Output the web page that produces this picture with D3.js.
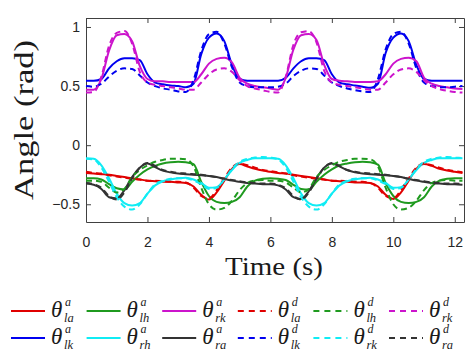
<!DOCTYPE html>
<html>
<head>
<meta charset="utf-8">
<script src="https://cdn.jsdelivr.net/npm/d3@7/dist/d3.min.js"></script>
<style>
  body { margin: 0; background: #fff; }
  svg { display: block; }
  .axis text { font-family: "Liberation Sans", Arial, sans-serif; font-size: 14px; fill: #262626; }
  .axis path, .axis line { stroke: #404040; stroke-width: 1; }
  .axis-title { font-family: "Liberation Serif", "Times New Roman", serif; fill: #1a1a1a; }
  .leg { font-family: "Liberation Serif", "Times New Roman", serif; font-style: italic; fill: #1a1a1a; }
</style>
</head>
<body>
<div id="chart"></div>
<script>
// sample times (s)
const time = [0, 0.25, 0.5, 0.75, 1, 1.25, 1.5, 1.75, 2, 2.25, 2.5, 2.75, 3, 3.25, 3.5, 3.75, 4, 4.25, 4.5, 4.75, 5, 5.25, 5.5, 5.75,
  6, 6.25, 6.5, 6.75, 7, 7.25, 7.5, 7.75, 8, 8.25, 8.5, 8.75, 9, 9.25, 9.5, 9.75, 10, 10.25, 10.5, 10.75, 11, 11.25, 11.5, 11.75,
  12, 12.25];

const xTicks = [0, 2, 4, 6, 8, 10, 12];
const yTicks = [-0.5, 0, 0.5, 1];

// actual joint angles (rad)
const laActual = [-0.235, -0.24, -0.245, -0.25, -0.26, -0.27, -0.28, -0.29, -0.30, -0.305, -0.31, -0.31, -0.315, -0.32, -0.35, -0.42, -0.46, -0.40, -0.30, -0.20, -0.16, -0.18, -0.20, -0.215,
  -0.225, -0.235, -0.24, -0.25, -0.26, -0.27, -0.28, -0.29, -0.30, -0.305, -0.31, -0.315, -0.315, -0.32, -0.35, -0.42, -0.455, -0.40, -0.30, -0.20, -0.16, -0.175, -0.20, -0.215,
  -0.225, -0.235];
const lkActual = [0.545, 0.545, 0.56, 0.65, 0.71, 0.735, 0.735, 0.72, 0.60, 0.53, 0.515, 0.505, 0.50, 0.49, 0.52, 0.77, 0.91, 0.945, 0.88, 0.68, 0.56, 0.545, 0.545, 0.545,
  0.545, 0.545, 0.57, 0.65, 0.71, 0.735, 0.735, 0.72, 0.60, 0.53, 0.515, 0.505, 0.495, 0.485, 0.52, 0.78, 0.91, 0.945, 0.88, 0.68, 0.56, 0.545, 0.545, 0.545,
  0.545, 0.545];
const lhActual = [-0.28, -0.28, -0.29, -0.33, -0.365, -0.375, -0.31, -0.25, -0.205, -0.175, -0.155, -0.145, -0.14, -0.145, -0.16, -0.31, -0.43, -0.48, -0.49, -0.48, -0.44, -0.35, -0.30, -0.285,
  -0.28, -0.285, -0.295, -0.335, -0.37, -0.375, -0.31, -0.25, -0.205, -0.17, -0.155, -0.145, -0.14, -0.145, -0.165, -0.32, -0.43, -0.48, -0.49, -0.48, -0.44, -0.35, -0.30, -0.285,
  -0.28, -0.28];
const rhActual = [-0.11, -0.115, -0.17, -0.28, -0.41, -0.49, -0.51, -0.49, -0.41, -0.34, -0.305, -0.29, -0.28, -0.275, -0.29, -0.32, -0.36, -0.355, -0.29, -0.21, -0.15, -0.125, -0.11, -0.11,
  -0.11, -0.115, -0.17, -0.28, -0.41, -0.49, -0.51, -0.49, -0.41, -0.34, -0.305, -0.29, -0.28, -0.275, -0.29, -0.32, -0.36, -0.355, -0.29, -0.21, -0.15, -0.125, -0.11, -0.11,
  -0.11, -0.11];
const rkActual = [0.47, 0.47, 0.56, 0.80, 0.93, 0.94, 0.88, 0.67, 0.56, 0.54, 0.54, 0.535, 0.535, 0.535, 0.535, 0.60, 0.69, 0.73, 0.74, 0.70, 0.57, 0.52, 0.50, 0.49,
  0.48, 0.47, 0.57, 0.81, 0.93, 0.94, 0.89, 0.68, 0.56, 0.545, 0.54, 0.535, 0.535, 0.535, 0.54, 0.60, 0.69, 0.73, 0.74, 0.71, 0.57, 0.52, 0.50, 0.49,
  0.48, 0.475];
const raActual = [-0.325, -0.335, -0.37, -0.44, -0.45, -0.38, -0.27, -0.19, -0.155, -0.185, -0.215, -0.23, -0.24, -0.245, -0.25, -0.255, -0.26, -0.27, -0.285, -0.30, -0.31, -0.32, -0.325, -0.33,
  -0.33, -0.34, -0.375, -0.44, -0.455, -0.39, -0.28, -0.19, -0.155, -0.18, -0.21, -0.23, -0.24, -0.245, -0.25, -0.255, -0.26, -0.27, -0.285, -0.30, -0.31, -0.32, -0.325, -0.33,
  -0.33, -0.335];

// desired joint angles (rad)
const laDesired = [-0.225, -0.235, -0.24, -0.255, -0.265, -0.275, -0.285, -0.29, -0.30, -0.30, -0.305, -0.31, -0.31, -0.315, -0.36, -0.43, -0.45, -0.38, -0.28, -0.19, -0.155, -0.17, -0.19, -0.21,
  -0.22, -0.23, -0.24, -0.255, -0.265, -0.275, -0.285, -0.29, -0.30, -0.30, -0.305, -0.31, -0.31, -0.32, -0.36, -0.43, -0.45, -0.38, -0.28, -0.19, -0.155, -0.17, -0.19, -0.21,
  -0.22, -0.23];
const lkDesired = [0.50, 0.495, 0.52, 0.58, 0.63, 0.65, 0.645, 0.59, 0.53, 0.50, 0.48, 0.47, 0.455, 0.45, 0.55, 0.80, 0.94, 0.96, 0.86, 0.66, 0.53, 0.50, 0.49, 0.49,
  0.49, 0.495, 0.52, 0.585, 0.63, 0.65, 0.645, 0.59, 0.53, 0.50, 0.48, 0.465, 0.455, 0.45, 0.56, 0.81, 0.94, 0.96, 0.86, 0.65, 0.53, 0.50, 0.49, 0.49,
  0.495, 0.50];
const lhDesired = [-0.30, -0.30, -0.31, -0.36, -0.40, -0.37, -0.27, -0.21, -0.17, -0.14, -0.125, -0.115, -0.115, -0.12, -0.18, -0.36, -0.50, -0.545, -0.53, -0.47, -0.38, -0.32, -0.30, -0.295,
  -0.30, -0.30, -0.315, -0.36, -0.40, -0.37, -0.27, -0.21, -0.17, -0.14, -0.125, -0.115, -0.115, -0.12, -0.18, -0.36, -0.50, -0.545, -0.53, -0.47, -0.38, -0.32, -0.30, -0.295,
  -0.30, -0.30];
const rhDesired = [-0.115, -0.12, -0.19, -0.31, -0.44, -0.52, -0.545, -0.50, -0.41, -0.33, -0.30, -0.285, -0.28, -0.28, -0.30, -0.33, -0.37, -0.36, -0.29, -0.20, -0.14, -0.115, -0.105, -0.10,
  -0.105, -0.12, -0.19, -0.31, -0.44, -0.52, -0.545, -0.50, -0.41, -0.33, -0.30, -0.285, -0.28, -0.28, -0.30, -0.33, -0.37, -0.36, -0.29, -0.20, -0.14, -0.115, -0.105, -0.10,
  -0.105, -0.11];
const rkDesired = [0.445, 0.45, 0.58, 0.84, 0.95, 0.965, 0.86, 0.62, 0.53, 0.51, 0.50, 0.49, 0.48, 0.47, 0.47, 0.53, 0.60, 0.64, 0.65, 0.62, 0.55, 0.50, 0.48, 0.465,
  0.45, 0.445, 0.58, 0.85, 0.955, 0.965, 0.87, 0.63, 0.53, 0.51, 0.50, 0.49, 0.48, 0.47, 0.47, 0.53, 0.60, 0.64, 0.65, 0.62, 0.55, 0.50, 0.475, 0.46,
  0.45, 0.445];
const raDesired = [-0.32, -0.33, -0.36, -0.43, -0.46, -0.40, -0.28, -0.19, -0.15, -0.175, -0.21, -0.225, -0.235, -0.24, -0.245, -0.25, -0.26, -0.27, -0.285, -0.295, -0.305, -0.315, -0.32, -0.325,
  -0.325, -0.335, -0.365, -0.43, -0.46, -0.40, -0.285, -0.19, -0.15, -0.175, -0.21, -0.225, -0.235, -0.24, -0.245, -0.25, -0.26, -0.27, -0.285, -0.295, -0.305, -0.315, -0.32, -0.325,
  -0.325, -0.33];

// legend order (column-major, two rows), also the drawing order
const series = [
  { values: laActual, color: "#e00000", dashed: false, sup: "a", sub: "la" },
  { values: lkActual, color: "#0000f0", dashed: false, sup: "a", sub: "lk" },
  { values: lhActual, color: "#1f9a1f", dashed: false, sup: "a", sub: "lh" },
  { values: rhActual, color: "#10ecf4", dashed: false, sup: "a", sub: "rh" },
  { values: rkActual, color: "#cc14cc", dashed: false, sup: "a", sub: "rk" },
  { values: raActual, color: "#333333", dashed: false, sup: "a", sub: "ra" },
  { values: laDesired, color: "#e00000", dashed: true, sup: "d", sub: "la" },
  { values: lkDesired, color: "#0000f0", dashed: true, sup: "d", sub: "lk" },
  { values: lhDesired, color: "#1f9a1f", dashed: true, sup: "d", sub: "lh" },
  { values: rhDesired, color: "#10ecf4", dashed: true, sup: "d", sub: "rk" },
  { values: rkDesired, color: "#cc14cc", dashed: true, sup: "d", sub: "rk" },
  { values: raDesired, color: "#333333", dashed: true, sup: "d", sub: "ra" }
];

class AngleChart {
  constructor(_config) {
    this.config = {
      parentElement: _config.parentElement,
      containerWidth: _config.containerWidth || 474,
      containerHeight: _config.containerHeight || 353,
      margin: { top: 18, right: 10, bottom: 131, left: 86 }
    };
    this.initVis();
  }

  initVis() {
    const vis = this;
    const m = vis.config.margin;
    vis.width = vis.config.containerWidth - m.left - m.right;
    vis.height = vis.config.containerHeight - m.top - m.bottom;

    vis.root = d3.select(vis.config.parentElement).append("svg")
      .attr("width", vis.config.containerWidth)
      .attr("height", vis.config.containerHeight);

    vis.svg = vis.root.append("g")
      .attr("transform", `translate(${m.left},${m.top})`);

    vis.xScale = d3.scaleLinear().domain([0, 12.3]).range([0, vis.width]);
    vis.yScale = d3.scaleLinear().domain([-0.65, 1.076]).range([vis.height, 0]);

    // MATLAB style box with inward ticks on all sides
    vis.svg.append("g").attr("class", "axis")
      .attr("transform", `translate(0,${vis.height})`)
      .call(d3.axisBottom(vis.xScale).tickValues(xTicks).tickSize(-5).tickSizeOuter(0).tickPadding(15));
    vis.svg.append("g").attr("class", "axis")
      .call(d3.axisTop(vis.xScale).tickValues(xTicks).tickSize(-5).tickSizeOuter(0).tickFormat(""));
    vis.svg.append("g").attr("class", "axis")
      .call(d3.axisLeft(vis.yScale).tickValues(yTicks).tickSize(-5).tickSizeOuter(0).tickPadding(6)
        .tickFormat(d => d3.format("")(d)));
    vis.svg.append("g").attr("class", "axis")
      .attr("transform", `translate(${vis.width},0)`)
      .call(d3.axisRight(vis.yScale).tickValues(yTicks).tickSize(-5).tickSizeOuter(0).tickFormat(""));

    vis.root.append("text").attr("class", "axis-title")
      .attr("x", 274).attr("y", 275)
      .attr("text-anchor", "middle")
      .attr("font-size", 26)
      .attr("textLength", 98).attr("lengthAdjust", "spacingAndGlyphs")
      .text("Time (s)");

    vis.root.append("text").attr("class", "axis-title")
      .attr("transform", "translate(33,120) rotate(-90)")
      .attr("text-anchor", "middle")
      .attr("font-size", 28)
      .attr("textLength", 160).attr("lengthAdjust", "spacingAndGlyphs")
      .text("Angle (rad)");
  }

  renderVis(data) {
    const vis = this;
    const line = d3.line()
      .x((d, i) => vis.xScale(time[i]))
      .y(d => vis.yScale(d))
      .curve(d3.curveMonotoneX);

    vis.svg.selectAll(".series")
      .data(data)
      .join("path")
      .attr("class", "series")
      .attr("fill", "none")
      .attr("stroke", d => d.color)
      .attr("stroke-width", 2)
      .attr("stroke-dasharray", d => d.dashed ? "6,4" : null)
      .attr("d", d => line(d.values));

    // legend: 6 columns x 2 rows
    const leg = vis.root.append("g");
    const items = leg.selectAll("g")
      .data(data)
      .join("g")
      .attr("transform", (d, i) => `translate(${11 + Math.floor(i / 2) * 75.6},${i % 2 === 0 ? 311 : 338})`);

    items.append("line")
      .attr("x1", 0).attr("x2", 34)
      .attr("stroke", d => d.color)
      .attr("stroke-width", 2)
      .attr("stroke-dasharray", d => d.dashed ? "6,5" : null);
    items.append("text").attr("class", "leg")
      .attr("x", 40).attr("y", 6).attr("font-size", 23)
      .text("\u03b8");
    items.append("text").attr("class", "leg")
      .attr("x", 54).attr("y", -5).attr("font-size", 12)
      .text(d => d.sup);
    items.append("text").attr("class", "leg")
      .attr("x", 53).attr("y", 11).attr("font-size", 12.5)
      .text(d => d.sub);
  }
}

const chart = new AngleChart({ parentElement: "#chart", containerWidth: 474, containerHeight: 353 });
chart.renderVis(series);
</script>
</body>
</html>
